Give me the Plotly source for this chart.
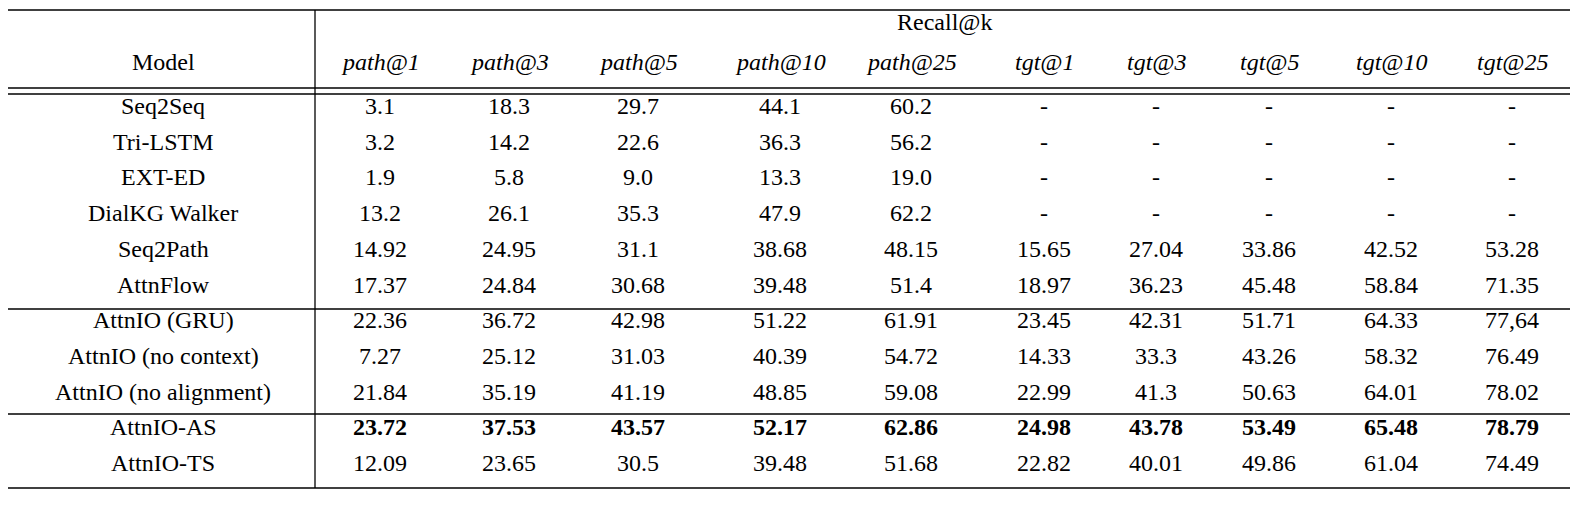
import plotly.graph_objects as go

models = ["Seq2Seq", "Tri-LSTM", "EXT-ED", "DialKG Walker", "Seq2Path", "AttnFlow",
          "AttnIO (GRU)", "AttnIO (no context)", "AttnIO (no alignment)",
          "AttnIO-AS", "AttnIO-TS"]
columns = ["path@1", "path@3", "path@5", "path@10", "path@25",
           "tgt@1", "tgt@3", "tgt@5", "tgt@10", "tgt@25"]
values = [
    ["3.1", "18.3", "29.7", "44.1", "60.2", "-", "-", "-", "-", "-"],
    ["3.2", "14.2", "22.6", "36.3", "56.2", "-", "-", "-", "-", "-"],
    ["1.9", "5.8", "9.0", "13.3", "19.0", "-", "-", "-", "-", "-"],
    ["13.2", "26.1", "35.3", "47.9", "62.2", "-", "-", "-", "-", "-"],
    ["14.92", "24.95", "31.1", "38.68", "48.15", "15.65", "27.04", "33.86", "42.52", "53.28"],
    ["17.37", "24.84", "30.68", "39.48", "51.4", "18.97", "36.23", "45.48", "58.84", "71.35"],
    ["22.36", "36.72", "42.98", "51.22", "61.91", "23.45", "42.31", "51.71", "64.33", "77,64"],
    ["7.27", "25.12", "31.03", "40.39", "54.72", "14.33", "33.3", "43.26", "58.32", "76.49"],
    ["21.84", "35.19", "41.19", "48.85", "59.08", "22.99", "41.3", "50.63", "64.01", "78.02"],
    ["23.72", "37.53", "43.57", "52.17", "62.86", "24.98", "43.78", "53.49", "65.48", "78.79"],
    ["12.09", "23.65", "30.5", "39.48", "51.68", "22.82", "40.01", "49.86", "61.04", "74.49"],
]
bold_rows = [9]

W, H = 1578, 509
FONT = dict(family="Liberation Serif", size=24, color="black")
col_x = [155, 372, 501, 630, 772, 903, 1036, 1148, 1261, 1383, 1504]
row_y0, row_dy = 98, 35.7
x_left, x_right, x_div = 0, 1566, 307

fig = go.Figure()
ann = []
def t(x, y, s, italic=False):
    ann.append(dict(x=x, y=y, xref="x", yref="y", text=(f"<i>{s}</i>" if italic else s),
                    showarrow=False, font=FONT, xanchor="center", yanchor="middle"))

t((x_div + x_right) / 2, 14, "Recall@k")
t(col_x[0], 54, "Model")
for j, c in enumerate(columns):
    t(col_x[j + 1], 54, c, italic=True)
for i, m in enumerate(models):
    y = row_y0 + i * row_dy
    t(col_x[0], y, m)
    for j, v in enumerate(values[i]):
        t(col_x[j + 1], y, f"<b>{v}</b>" if i in bold_rows else v)

shapes = []
def hl(y, w=1.3):
    shapes.append(dict(type="line", x0=x_left, x1=x_right, y0=y, y1=y, xref="x", yref="y",
                       line=dict(color="black", width=w)))
hl(2); hl(80); hl(86); hl(301); hl(406); hl(480)
shapes.append(dict(type="line", x0=x_div, x1=x_div, y0=2, y1=480, xref="x", yref="y",
                   line=dict(color="black", width=1.3)))

fig.update_layout(width=W, height=H, margin=dict(l=0, r=0, t=0, b=0),
                  font=FONT, plot_bgcolor="white", paper_bgcolor="white",
                  xaxis=dict(range=[0, W], visible=False, fixedrange=True),
                  yaxis=dict(range=[H, 0], visible=False, fixedrange=True),
                  annotations=ann, shapes=shapes, showlegend=False)
fig.write_html("out.html")
